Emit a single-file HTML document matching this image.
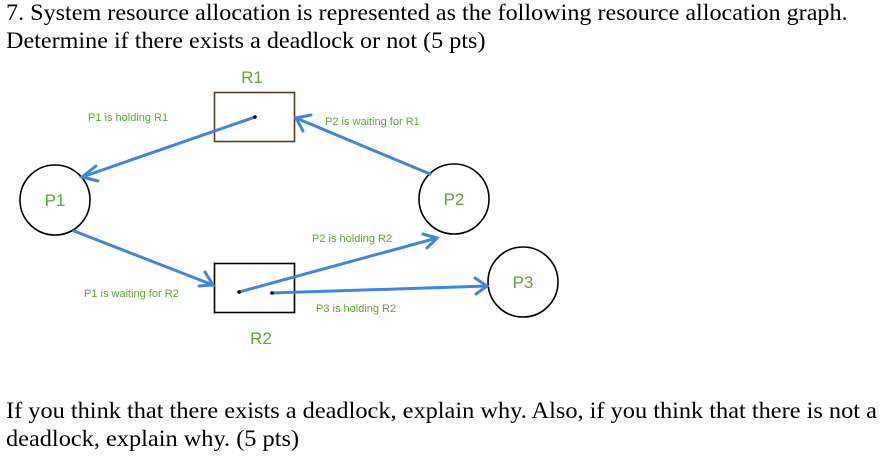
<!DOCTYPE html>
<html><head><style>
body{margin:0;background:#fff;width:882px;height:457px;overflow:hidden;position:relative;font-family:"Liberation Serif",serif;}
.t{position:absolute;left:6px;font-size:23px;color:#000;white-space:nowrap;transform:scaleX(1.05);transform-origin:0 0;}
</style></head><body>
<div class="t" style="top:0px">7. System resource allocation is represented as the following resource allocation graph.</div>
<div class="t" style="top:28px">Determine if there exists a deadlock or not (5 pts)</div>
<div class="t" style="top:398px;transform:scaleX(1.058)">If you think that there exists a deadlock, explain why. Also, if you think that there is not a</div>
<div class="t" style="top:426px;transform:scaleX(1.058)">deadlock, explain why. (5 pts)</div>
<svg width="882" height="457" style="position:absolute;left:0;top:0" font-family="Liberation Sans, sans-serif">
<g fill="none" stroke-width="1.6">
<rect x="214.5" y="92.5" width="80" height="49" stroke="#5a3a28"/>
<rect x="214.5" y="263.5" width="80" height="49" stroke="#000"/>
<circle cx="55" cy="200" r="35" stroke="#000"/>
<circle cx="454" cy="199" r="35" stroke="#000"/>
<circle cx="523" cy="282" r="35" stroke="#000"/>
</g>
<g stroke="#3f86e0" stroke-width="3" fill="none" stroke-linecap="round">
<line x1="255" y1="117" x2="82" y2="177"/><polyline points="96,166 82,177 98,181"/>
<line x1="430" y1="174" x2="296" y2="118"/><polyline points="303,131 296,118 311,115"/>
<line x1="74" y1="231" x2="213" y2="285"/><polyline points="199,286 213,285 205,272"/>
<line x1="239" y1="292" x2="437" y2="238"/><polyline points="423,234 437,238 427,248"/>
<line x1="272" y1="293" x2="487" y2="286"/><polyline points="475,278 487,286 476,294"/>
</g>
<circle cx="255" cy="117" r="1.8" fill="#000"/>
<circle cx="239" cy="292" r="1.8" fill="#000"/>
<circle cx="272" cy="293" r="1.8" fill="#000"/>
<g fill="#5aa832">
<text x="252" y="83" font-size="17" text-anchor="middle">R1</text>
<text x="261" y="344" font-size="17" text-anchor="middle">R2</text>
<text x="55" y="206" font-size="17" text-anchor="middle">P1</text>
<text x="454" y="205" font-size="17" text-anchor="middle">P2</text>
<text x="523" y="288" font-size="17" text-anchor="middle">P3</text>
<g font-size="11">
<text x="88" y="121">P1 is holding R1</text>
<text x="325" y="125">P2 is waiting for R1</text>
<text x="312" y="242">P2 is holding R2</text>
<text x="84" y="297">P1 is waiting for  R2</text>
<text x="316" y="312">P3 is holding R2</text>
</g></g>
</svg>
</body></html>
